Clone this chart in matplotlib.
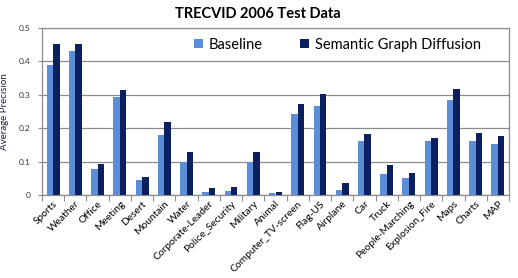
import matplotlib
matplotlib.use("Agg")
import matplotlib.pyplot as plt
import numpy as np

categories = ["Sports", "Weather", "Office", "Meeting", "Desert", "Mountain", "Water",
              "Corporate-Leader", "Police_Security", "Military", "Animal",
              "Computer_TV-screen", "Flag-US", "Airplane", "Car", "Truck",
              "People-Marching", "Explosion_Fire", "Maps", "Charts", "MAP"]
baseline = [0.390, 0.432, 0.079, 0.292, 0.046, 0.181, 0.099, 0.008, 0.013, 0.099, 0.005,
            0.244, 0.267, 0.016, 0.163, 0.062, 0.050, 0.163, 0.285, 0.163, 0.154]
sgd = [0.451, 0.451, 0.094, 0.313, 0.055, 0.220, 0.130, 0.022, 0.025, 0.130, 0.008,
       0.273, 0.303, 0.035, 0.184, 0.089, 0.067, 0.172, 0.318, 0.187, 0.178]
yticks = [0, 0.1, 0.2, 0.3, 0.4, 0.5]
ytick_labels = ["0", "0.1", "0.2", "0.3", "0.4", "0.5"]

plt.rcParams['font.family'] = ['Lato', 'DejaVu Sans']

fig = plt.figure(figsize=(5.18, 2.78), dpi=100)
ax = fig.add_axes([42/518, 1-195/278, (509-42)/518, (195-28)/278])

x = np.arange(len(categories))
w = 0.29
ax.bar(x - w/2, baseline, w, color="#5B8ED6", label="Baseline", zorder=3)
ax.bar(x + w/2, sgd, w, color="#0C1F5E", label="Semantic Graph Diffusion", zorder=3)

ax.set_xlim(-0.5, len(categories) - 0.5)
ax.set_ylim(0, 0.5)
ax.set_yticks(yticks)
ax.set_yticklabels(ytick_labels, fontsize=6, color="#333333")
ax.yaxis.grid(True, color="#8C8C8C", linewidth=0.9, zorder=0)
ax.set_xticks(x)
ax.set_xticklabels(categories, rotation=45, ha="right", rotation_mode="anchor", fontsize=7.4)
ax.set_xticks(np.arange(len(categories) + 1) - 0.5, minor=True)
ax.tick_params(axis="x", which="major", length=0, pad=3)
ax.tick_params(axis="x", which="minor", length=4, color="#8C8C8C", width=0.8)
ax.tick_params(axis="y", length=3, color="#8C8C8C", width=0.8, pad=5)
for s in ["left", "bottom", "right", "top"]:
    ax.spines[s].set_color("#8C8C8C")
    ax.spines[s].set_linewidth(0.9)

ax.set_ylabel("Average Precision", fontsize=7, color="#1F1F3F")
ax.yaxis.set_label_coords((9 - 42) / 467, 0.5)
fig.text(258/518, 1-14/278, "TRECVID 2006 Test Data", ha="center", va="center",
         fontsize=10.5, fontweight="bold")

ax.legend(loc="center right", bbox_to_anchor=(0.94, 0.9), ncol=2, frameon=False,
          fontsize=10.5, handlelength=0.6, handleheight=0.6, handletextpad=0.4,
          columnspacing=2.6, borderaxespad=0, borderpad=0)

fig.savefig("out.png", dpi=100)
